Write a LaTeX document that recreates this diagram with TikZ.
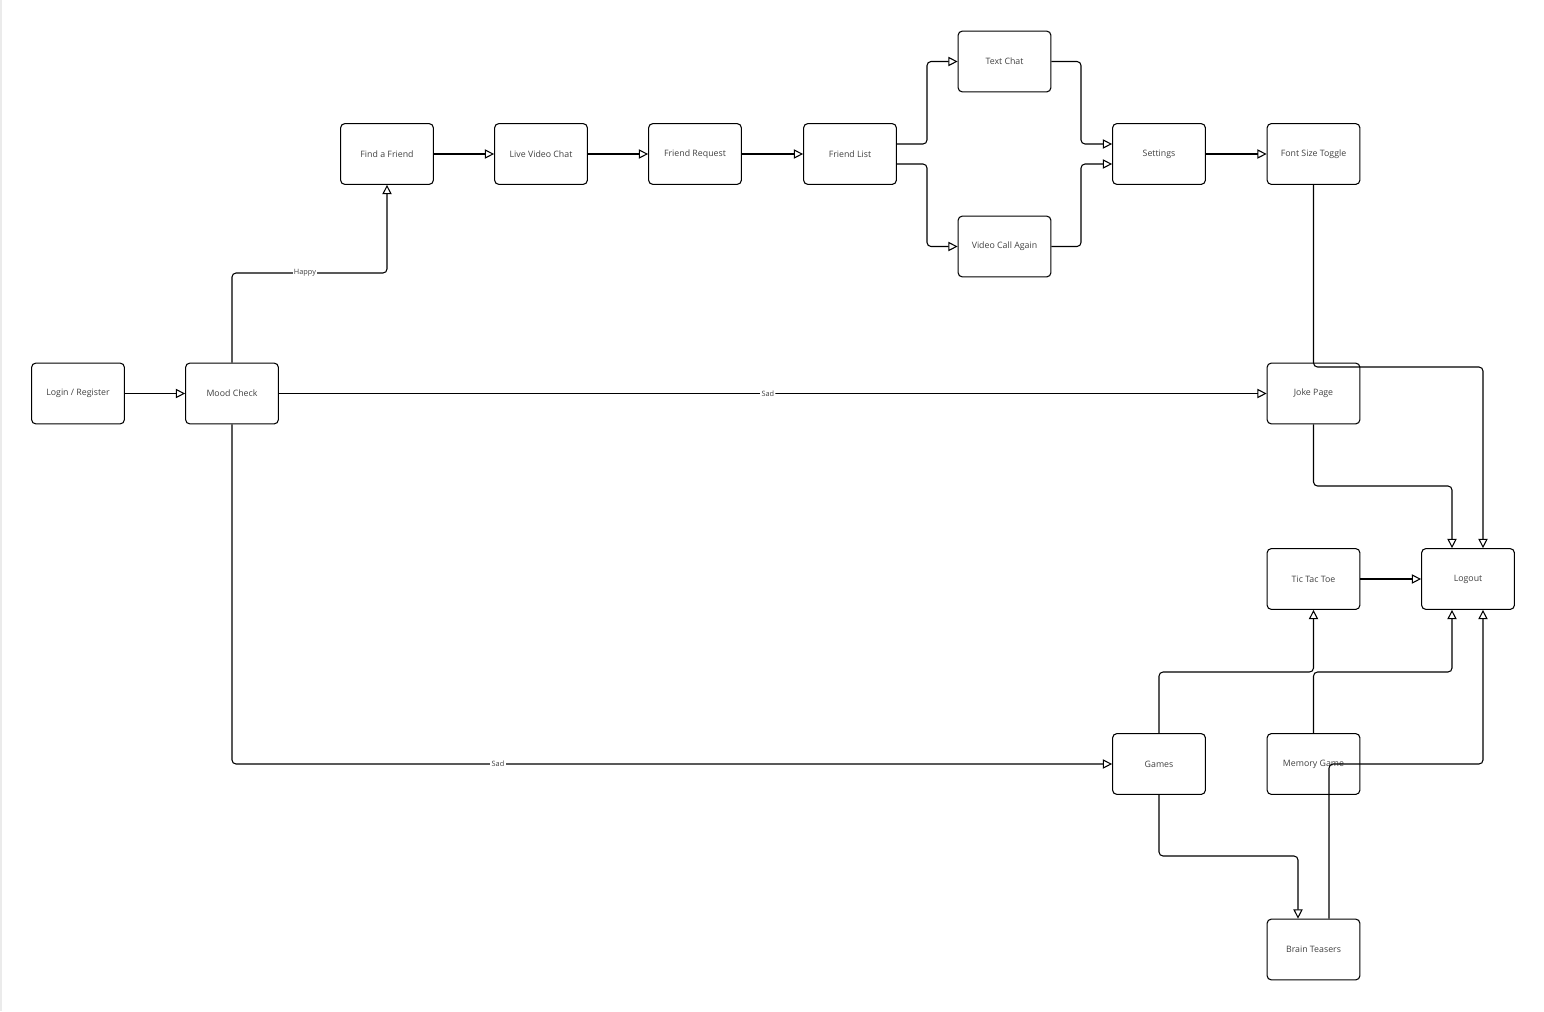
\documentclass[tikz,border=0pt]{standalone}
\usepackage{fontspec}
\setmainfont{Open Sans}
\usetikzlibrary{arrows.meta}
\begin{document}
\begin{tikzpicture}[x=0.75pt,y=-0.75pt,
  box/.style={draw,line width=0.8pt,rounded corners=3pt,minimum width=69.5pt,minimum height=45.5pt,inner sep=0pt,font=\fontsize{6.6pt}{8pt}\selectfont,text=black!75},
  link/.style={draw,line width=0.8pt,rounded corners=3pt,-{Triangle[open,length=7pt,width=7pt]}},
  lab/.style={fill=white,inner sep=1pt,font=\fontsize{5.5pt}{6pt}\selectfont,text=black!75}]
\useasboundingbox (0,0) rectangle (1544,1011);
\draw[black!8,line width=1pt] (1,0) -- (1,1011);
\node[box] (login) at (78,393.5) {Login / Register};
\node[box] (mood) at (232,393.5) {Mood Check};
\node[box] (find) at (387,154) {Find a Friend};
\node[box] (live) at (541,154) {Live Video Chat};
\node[box] (req) at (695,154) {Friend Request};
\node[box] (list) at (850,154) {Friend List};
\node[box] (text) at (1004.5,61.5) {Text Chat};
\node[box] (video) at (1004.5,246.5) {Video Call Again};
\node[box] (set) at (1159,154) {Settings};
\node[box] (font) at (1313.5,154) {Font Size Toggle};
\node[box] (joke) at (1313.5,393.5) {Joke Page};
\node[box] (tic) at (1313.5,579) {Tic Tac Toe};
\node[box] (logout) at (1468,579) {Logout};
\node[box] (games) at (1159,764) {Games};
\node[box] (mem) at (1313.5,764) {Memory Game};
\node[box] (brain) at (1313.5,949.5) {Brain Teasers};

\draw[link] (login) -- (mood);
\draw[link] (mood.north) |- (310,273) -| (find.south);
\node[lab] at (305,273) {Happy};
\draw[link] (mood) -- node[lab,pos=0.495] {Sad} (joke);
\draw[link] (mood.south) |- (games.west);
\node[lab] at (498,764) {Sad};
\draw[link] (find) -- (live);
\draw[link] (live) -- (req);
\draw[link] (req) -- (list);
\coordinate (l1) at (list.east |- 0,144);
\coordinate (l2) at (list.east |- 0,164);
\draw[link] (l1) -- (927,144) |- (text.west);
\draw[link] (l2) -- (927,164) |- (video.west);
\coordinate (s1) at (set.west |- 0,144);
\coordinate (s2) at (set.west |- 0,164);
\draw[link] (text.east) -- (1081,61.5) |- (s1);
\draw[link] (video.east) -- (1081,246.5) |- (s2);
\draw[link] (set) -- (font);
\coordinate (lo1) at (1452,0);
\coordinate (lo2) at (1483,0);
\draw[link] (font.south) |- (1400,367) -| (lo2 |- logout.north);
\draw[link] (joke.south) |- (1400,486) -| (lo1 |- logout.north);
\draw[link] (tic) -- (logout);
\draw[link] (games.north) |- (1250,672) -| (tic.south);
\draw[link] (mem.north) |- (1400,672) -| (lo1 |- logout.south);
\coordinate (bt) at (1329,0);
\draw[link] (bt |- brain.north) -- (1329,764) -| (lo2 |- logout.south);
\coordinate (bt2) at (1298,0);
\draw[link] (games.south) |- (1250,856) -| (bt2 |- brain.north);
\end{tikzpicture}
\end{document}
